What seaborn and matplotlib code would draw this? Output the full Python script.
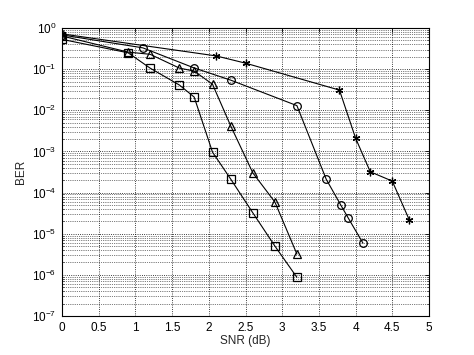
import matplotlib
matplotlib.use("Agg")
import matplotlib.pyplot as plt
import seaborn as sns
import pandas as pd
import numpy as np
from matplotlib.ticker import NullFormatter, FixedLocator, FixedFormatter

sns.set_theme(style="white")
plt.rcParams['font.family'] = ['Liberation Sans', 'DejaVu Sans']
plt.rcParams['mathtext.fontset'] = 'custom'
plt.rcParams['mathtext.rm'] = 'Liberation Sans'

x_ticks = [0, 0.5, 1, 1.5, 2, 2.5, 3, 3.5, 4, 4.5, 5]
x_tick_labels = ['0', '0.5', '1', '1.5', '2', '2.5', '3', '3.5', '4', '4.5', '5']
y_exponents = [-7, -6, -5, -4, -3, -2, -1, 0]

star_x = [0, 2.1, 2.5, 3.78, 4.0, 4.2, 4.5, 4.73]
star_y = [0.72, 0.21, 0.14, 0.031, 2.1e-3, 3.2e-4, 1.9e-4, 2.2e-5]

circ_x = [0, 1.1, 1.8, 2.3, 3.2, 3.6, 3.8, 3.9, 4.1]
circ_y = [0.68, 0.33, 0.107, 0.054, 0.013, 2.1e-4, 4.9e-5, 2.4e-5, 5.9e-6]

tri_x = [0, 0.9, 1.2, 1.6, 1.8, 2.05, 2.3, 2.6, 2.9, 3.2]
tri_y = [0.64, 0.26, 0.23, 0.106, 0.09, 0.043, 4.1e-3, 3.0e-4, 5.9e-5, 3.2e-6]

sq_x = [0, 0.9, 1.2, 1.6, 1.8, 2.05, 2.3, 2.6, 2.9, 3.2]
sq_y = [0.53, 0.25, 0.106, 0.041, 0.021, 9.6e-4, 2.1e-4, 3.2e-5, 5.0e-6, 8.7e-7]

fig = plt.figure(figsize=(4.74, 3.55), dpi=100)
ax = fig.add_axes([0.131, 0.110, 0.774, 0.811])

series = [
    (star_x, star_y, (6, 2, 0)),
    (circ_x, circ_y, 'o'),
    (tri_x, tri_y, '^'),
    (sq_x, sq_y, 's'),
]
for xs, ys, m in series:
    df = pd.DataFrame({'x': xs, 'y': ys})
    sns.lineplot(data=df, x='x', y='y', ax=ax, color='black', linewidth=0.8,
                 marker=m, markersize=5.5,
                 markerfacecolor='none', markeredgecolor='black',
                 markeredgewidth=0.9, sort=False)

ax.set_yscale('log')
ax.set_xlim(0, 5)
ax.set_ylim(1e-7, 1)
ax.xaxis.set_major_locator(FixedLocator(x_ticks))
ax.xaxis.set_major_formatter(FixedFormatter(x_tick_labels))
major_y = [10.0 ** e for e in y_exponents]
minor_y = [k * 10.0 ** e for e in y_exponents[:-1] for k in range(2, 10)]
ax.yaxis.set_major_locator(FixedLocator(major_y))
ax.yaxis.set_major_formatter(FixedFormatter([r'$10^{%d}$' % e for e in y_exponents]))
ax.yaxis.set_minor_locator(FixedLocator(minor_y))
ax.yaxis.set_minor_formatter(NullFormatter())
ax.xaxis.get_offset_text().set_visible(False)
ax.yaxis.get_offset_text().set_visible(False)

ax.grid(True, which='major', color='black', linestyle=':', linewidth=0.6)
ax.grid(True, which='minor', axis='y', color='black', linestyle=':', linewidth=0.5)

ax.tick_params(axis='both', which='major', direction='in', length=3, width=0.6,
               top=True, right=True, labelsize=8.5, colors='black', pad=4)
ax.tick_params(axis='y', which='minor', direction='in', length=1.5, width=0.5,
               left=True, right=True)
for s in ax.spines.values():
    s.set_color('black')
    s.set_linewidth(0.8)

ax.set_xlabel('SNR (dB)', fontsize=8.5, labelpad=1)
ax.set_ylabel('BER', fontsize=8.5, labelpad=4)

fig.savefig('out.png', dpi=100, facecolor='white')
